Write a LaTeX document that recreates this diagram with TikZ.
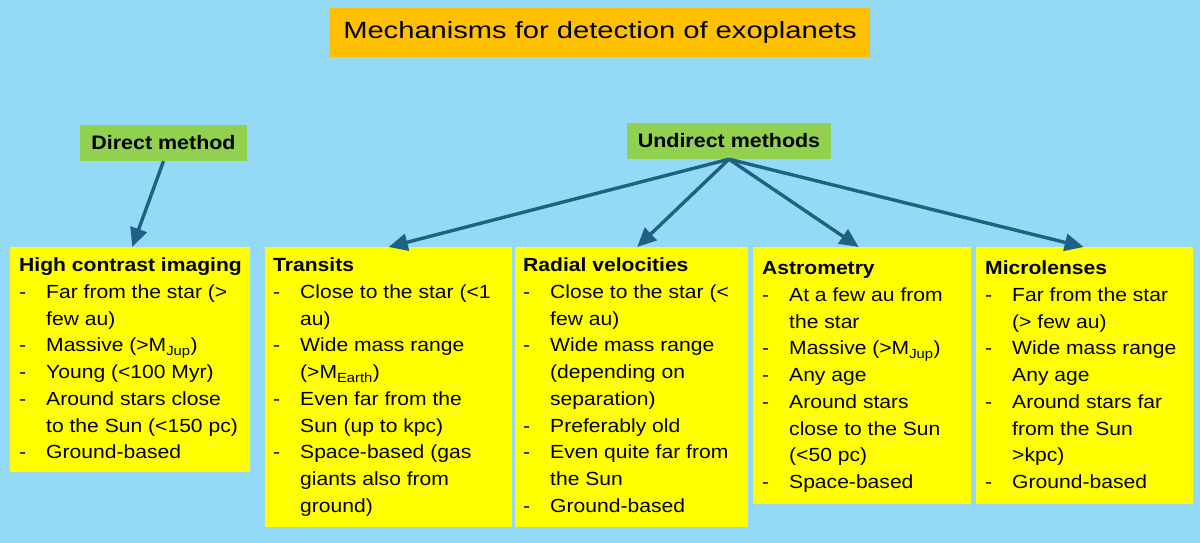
\documentclass[tikz,border=0pt]{standalone}
\usepackage{fontspec}
\setmainfont{Liberation Sans}[FakeStretch=1.11]
\newfontface\titlefont[FakeStretch=1.24]{Liberation Sans}
\newfontface\methodfont[FakeStretch=1.1]{Liberation Sans Bold}
\usetikzlibrary{arrows.meta}
\definecolor{bgblue}{HTML}{94D9F5}
\definecolor{boxyellow}{HTML}{FFFF00}
\definecolor{titleorange}{HTML}{FFC000}
\definecolor{methgreen}{HTML}{92D050}
\definecolor{arrowblue}{HTML}{1E6184}
\newcommand\boxlist[2]{\fontsize{19}{26.7}\selectfont\begin{tabular}{@{}p{27pt}@{}l@{}}\multicolumn{2}{@{}l@{}}{\bfseries #1}\\ #2\end{tabular}}
\tikzset{
  panel/.style={draw=none, fill=boxyellow, rectangle, anchor=north west, inner sep=0pt},
  paneltext/.style={anchor=north west, inner sep=0pt, align=left},
  method/.style={fill=methgreen, rectangle, inner sep=0pt, font=\methodfont\fontsize{19.5}{22}\selectfont},
  arr/.style={draw=arrowblue, line width=3.4pt, -{Triangle[length=19pt,width=17pt]}}
}
\begin{document}
\begin{tikzpicture}[x=1pt,y=-1pt]
\path[fill=bgblue,use as bounding box] (0,0) rectangle (1200,543);
\node[fill=titleorange, minimum width=540pt, minimum height=49pt, inner sep=0pt, font=\titlefont\fontsize{23.5}{26}\selectfont] (title) at (600,32.5) {Mechanisms for detection of exoplanets};
\node[method, minimum width=167pt, minimum height=36pt] (direct) at (163.5,143) {Direct method};
\node[method, minimum width=204pt, minimum height=36pt] (indirect) at (729,141) {Undirect methods};
% panels
\node[panel, minimum width=240pt, minimum height=225pt] (hci) at (10,247) {};
\node[panel, minimum width=247pt, minimum height=280pt] (transits) at (265,247) {};
\node[panel, minimum width=233pt, minimum height=280pt] (radial) at (514.5,247) {};
\node[panel, minimum width=218pt, minimum height=257pt] (astro) at (752.5,247) {};
\node[panel, minimum width=217pt, minimum height=257pt] (micro) at (976,247) {};
% texts
\node[paneltext] (hcit) at (19,253) {\boxlist{High contrast imaging}{
- & Far from the star (>\\
  & few au)\\
- & Massive (>M\textsubscript{Jup})\\
- & Young (<100 Myr)\\
- & Around stars close\\
  & to the Sun (<150 pc)\\
- & Ground-based}};
\node[paneltext] (transitst) at (273,253) {\boxlist{Transits}{
- & Close to the star (<1\\
  & au)\\
- & Wide mass range\\
  & (>M\textsubscript{Earth})\\
- & Even far from the\\
  & Sun (up to kpc)\\
- & Space-based (gas\\
  & giants also from\\
  & ground)}};
\node[paneltext] (radialt) at (523,253) {\boxlist{Radial velocities}{
- & Close to the star (<\\
  & few au)\\
- & Wide mass range\\
  & (depending on\\
  & separation)\\
- & Preferably old\\
- & Even quite far from\\
  & the Sun\\
- & Ground-based}};
\node[paneltext] (astrot) at (762,256) {\boxlist{Astrometry}{
- & At a few au from\\
  & the star\\
- & Massive (>M\textsubscript{Jup})\\
- & Any age\\
- & Around stars\\
  & close to the Sun\\
  & (<50 pc)\\
- & Space-based}};
\node[paneltext] (microt) at (985,256) {\boxlist{Microlenses}{
- & Far from the star\\
  & (> few au)\\
- & Wide mass range\\
  & Any age\\
- & Around stars far\\
  & from the Sun\\
  & >kpc)\\
- & Ground-based}};
% arrows
\draw[arr] (direct.south) -- ([xshift=2pt]hci.north);
\draw[arr] (indirect.south) -- (transits.north);
\draw[arr] (indirect.south) -- ([xshift=6pt]radial.north);
\draw[arr] (indirect.south) -- ([xshift=-3pt]astro.north);
\draw[arr] (indirect.south) -- ([xshift=-1pt]micro.north);
\end{tikzpicture}
\end{document}
